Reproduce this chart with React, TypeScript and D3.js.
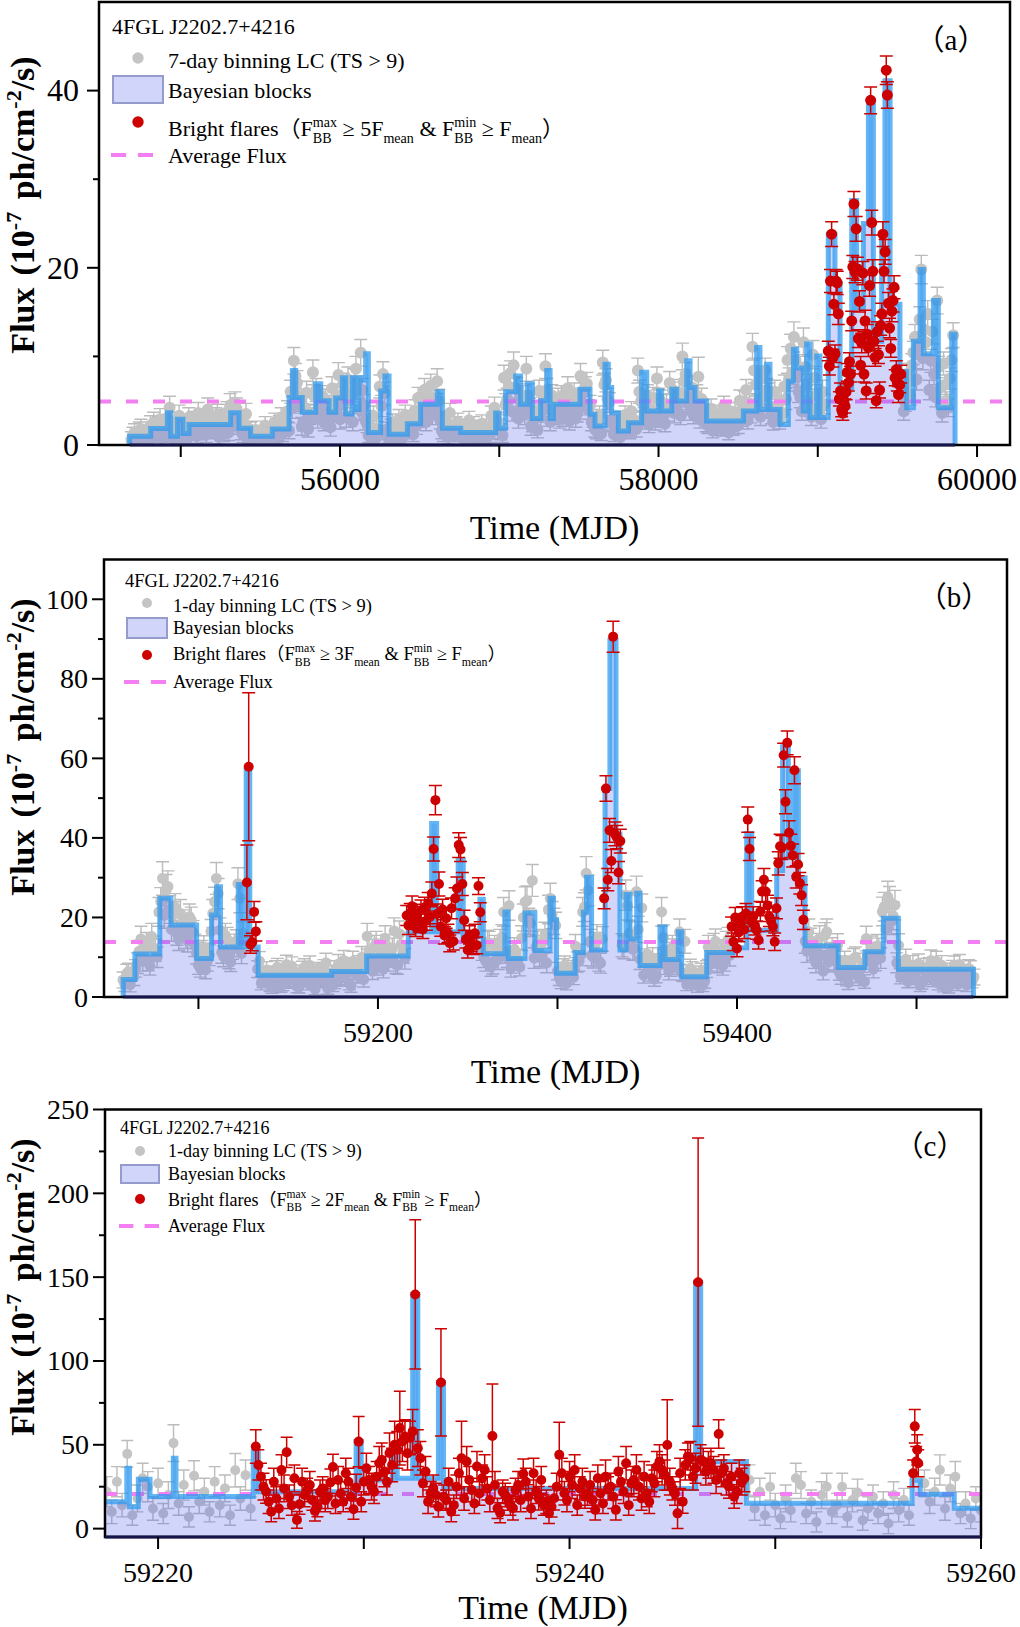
import React from 'react';
import * as d3 from 'd3';

const SERIF = '"Liberation Serif", "Times New Roman", Times, serif';
const CJK = '"Noto Sans CJK SC", "Noto Sans CJK JP", sans-serif';

const GRAY = '#c4c4c4';
const GRAY_ERR = '#bcbcbc';
const RED = '#cc0000';
const BLOCK_FILL = 'rgb(85,100,235)';
const BLOCK_FILL_OPACITY = 0.27;
const BLOCK_LINE = 'rgb(40,152,238)';
const AVG_COLOR = '#f47ff2';
const NAVY = '#15154a';

// ---------- (a) 7-day binning, full mission ----------
const grayStartA1 = 54690;
const grayStartA1b = 54700;
const grayStepA1 = 20;
const grayFluxA1 = [
  0.6, 1.4, 0.9, 1.8, 0.5, 1.2, 2.2,
  2.5, 1.4, 2.9, 1.1, 3.0,
  4.2,
  0.7, 1.6,
  3.3,
  0.9, 2.0,
  3.1, 1.8, 2.6, 3.6, 1.5, 2.9, 4.0, 2.2, 1.7, 3.4, 2.8, 1.2, 3.7,
  4.5, 2.8, 4.1,
  2.6, 1.2, 3.5, 1.0,
  0.8, 1.7, 0.5, 1.3, 2.2, 0.9, 1.5,
  2.6, 1.4, 3.1, 2.0, 3.8,
  6.0, 9.5, 7.0,
  4.8, 2.6, 5.9, 3.4,
  8.2,
  6.2, 3.9, 5.5,
  5.1, 2.7,
  6.4, 4.4, 7.9, 4.8, 6.3, 7.4, 5.7, 7.2, 6.5, 10.4, 4.5,
  2.4, 0.9, 3.3, 1.8,
  6.6, 8.0,
  1.7, 0.6, 2.5, 1.1, 2.9, 0.8,
  3.4, 1.6, 2.9, 3.9,
  5.3, 3.6, 6.2, 4.1, 6.7, 5.0,
  7.2,
  2.8, 1.3, 2.5, 3.6, 1.5, 2.2,
  2.0, 0.8, 1.6, 2.8, 1.1, 0.6, 1.9, 2.4, 1.0, 1.7, 3.3, 4.2,
  2.7, 1.5,
  7.6, 5.2, 8.1,
  9.0,
  6.3, 4.0, 5.5,
  8.6,
  4.2, 2.4, 3.7,
  6.1, 4.3,
  8.9,
  4.0, 5.6, 3.8, 5.2,
  5.5, 3.9, 6.4, 4.4, 5.8, 3.6,
  7.8, 5.9, 6.9,
  4.5,
  3.0, 1.6, 3.4,
  9.3, 7.3, 4.8,
  2.4, 1.2, 2.8, 1.8,
  3.4, 2.0, 3.8, 2.7,
  8.4,
  4.9, 3.2, 5.6, 4.0, 5.3,
  7.5,
  5.0, 3.4, 4.6,
  7.0, 6.2, 4.3, 5.9, 10.0, 8.0, 5.6,
  6.5, 4.4, 7.7, 5.2,
  3.6, 2.2, 4.1, 2.9, 1.9, 3.3, 4.4, 2.5, 3.8, 2.0, 3.1,
  5.0, 4.2, 6.2, 4.7,
  11.1, 6.8, 5.1, 7.6, 8.4, 5.8, 3.4, 6.0, 3.5, 5.0, 6.6, 9.6, 10.9, 12.2, 7.9, 5.4, 11.6, 6.7, 4.3, 10.2, 5.6, 4.0, 6.0,
];
const grayErrA1 = [
  0.9, 1.0, 0.8, 1.1, 0.9, 1.0, 1.1,
  1.2, 0.9, 1.2, 0.8, 1.1,
  1.3,
  0.9, 1.0,
  1.2,
  0.8, 1.0,
  1.1, 0.9, 1.1, 1.2, 0.9, 1.1, 1.3, 1.0, 0.9, 1.2, 1.1, 0.8, 1.2,
  1.3, 1.1, 1.2,
  1.0, 0.9, 1.2, 0.8,
  0.8, 1.0, 0.7, 0.9, 1.0, 0.8, 0.9,
  1.0, 0.9, 1.1, 1.0, 1.2,
  1.3, 1.5, 1.4,
  1.2, 1.0, 1.3, 1.1,
  1.4,
  1.3, 1.1, 1.2,
  1.2, 1.0,
  1.3, 1.2, 1.4, 1.2, 1.3, 1.4, 1.2, 1.4, 1.3, 1.5, 1.2,
  1.0, 0.8, 1.1, 0.9,
  1.3, 1.4,
  0.9, 0.8, 1.0, 0.9, 1.1, 0.8,
  1.1, 0.9, 1.0, 1.2,
  1.2, 1.1, 1.3, 1.1, 1.3, 1.2,
  1.4,
  1.0, 0.9, 1.0, 1.1, 0.9, 1.0,
  0.9, 0.8, 0.9, 1.0, 0.8, 0.7, 0.9, 1.0, 0.8, 0.9, 1.1, 1.2,
  1.0, 0.9,
  1.4, 1.2, 1.4,
  1.5,
  1.3, 1.1, 1.2,
  1.4,
  1.1, 0.9, 1.1,
  1.2, 1.1,
  1.4,
  1.1, 1.2, 1.1, 1.2,
  1.2, 1.1, 1.3, 1.1, 1.2, 1.0,
  1.4, 1.2, 1.3,
  1.1,
  1.0, 0.9, 1.0,
  1.4, 1.3, 1.1,
  0.9, 0.8, 1.0, 0.9,
  1.0, 0.9, 1.1, 1.0,
  1.4,
  1.2, 1.0, 1.2, 1.1, 1.2,
  1.3,
  1.2, 1.0, 1.1,
  1.3, 1.2, 1.1, 1.2, 1.5, 1.3, 1.2,
  1.3, 1.1, 2.2, 1.2,
  1.0, 0.9, 1.1, 1.0, 0.8, 1.0, 1.1, 0.9, 1.0, 0.9, 1.0,
  1.2, 1.1, 1.2, 1.1,
  1.5, 1.3, 1.2, 1.3, 1.4, 1.2, 1.0, 1.3, 1.0, 1.2, 1.3, 1.5, 1.6, 1.7, 1.4, 1.2, 1.6, 1.3, 1.1, 1.6, 1.2, 1.1, 1.3,
];
// the bins in between, 10 days later
const grayFluxA1b = [
  1.1, 0.4, 1.6, 0.7, 1.3, 0.6, 1.5,
  1.2, 2.2, 0.8, 2.0, 1.3,
  2.6,
  1.3, 0.5,
  2.1,
  1.5, 0.7,
  1.5, 2.7, 1.0, 2.0, 3.0, 1.2, 2.4, 1.6, 3.1, 0.9, 2.1, 2.9, 1.4,
  3.0, 4.8, 2.2,
  1.5, 2.4, 0.9, 1.7,
  1.2, 0.4, 1.0, 0.6, 1.4, 0.5, 1.1,
  1.0, 2.3, 1.3, 2.6, 1.6,
  4.2, 7.8, 5.0,
  2.1, 4.2, 1.8, 3.0,
  5.5,
  3.0, 4.6, 2.6,
  3.2, 2.0,
  3.8, 5.6, 2.9, 6.8, 3.1, 5.0, 2.6, 8.6, 4.0, 6.2, 2.8,
  1.1, 2.0, 0.6, 1.4,
  4.4, 5.8,
  1.0, 2.0, 0.5, 1.5, 0.8, 1.8,
  1.8, 2.8, 1.2, 2.2,
  3.1, 4.7, 2.6, 5.5, 3.4, 4.0,
  5.0,
  1.6, 2.4, 0.9, 1.9, 1.2, 2.6,
  1.2, 1.8, 0.6, 1.3, 2.2, 0.9, 1.4, 0.7, 2.0, 1.1, 1.6, 2.5,
  2.0, 1.1,
  4.6, 6.6, 3.8,
  6.4,
  3.0, 4.8, 3.4,
  5.6,
  2.1, 3.2, 1.7,
  3.2, 5.4,
  6.2,
  2.6, 3.4, 4.4, 2.9,
  3.2, 4.9, 2.7, 4.0, 3.0, 5.0,
  4.6, 6.4, 4.0,
  2.6,
  1.8, 2.6, 1.3,
  6.8, 5.2, 2.7,
  1.2, 2.0, 0.9, 1.6,
  2.2, 1.5, 2.9, 1.8,
  6.0,
  2.8, 4.2, 2.3, 3.5, 2.6,
  5.2,
  3.0, 2.4, 3.8,
  4.6, 3.6, 5.2, 3.3, 7.2, 4.8, 3.9,
  3.4, 5.6, 2.9, 4.0,
  2.4, 3.2, 1.6, 2.7, 3.5, 1.8, 2.9, 1.4, 2.6, 3.7, 2.2,
  3.1, 4.9, 2.8, 3.6,
  8.4, 4.6, 3.2, 5.5, 6.2, 4.1, 2.6, 4.4, 2.8, 3.6, 5.2, 7.4, 8.2, 9.6, 6.0, 3.8, 8.8, 4.8, 3.2, 7.6, 4.2, 2.9, 4.6,
];
const grayErrA1b = [
  0.9, 0.7, 1.0, 0.8, 0.9, 0.8, 1.0,
  0.9, 1.0, 0.8, 1.0, 0.9,
  1.1,
  0.9, 0.7,
  1.0,
  1.0, 0.8,
  0.9, 1.1, 0.8, 1.0, 1.1, 0.9, 1.0, 0.9, 1.1, 0.8, 1.0, 1.1, 0.9,
  1.1, 1.2, 1.0,
  0.9, 1.0, 0.8, 0.9,
  0.8, 0.7, 0.8, 0.7, 0.9, 0.7, 0.8,
  0.8, 1.0, 0.9, 1.0, 0.9,
  1.2, 1.4, 1.2,
  1.0, 1.2, 0.9, 1.1,
  1.3,
  1.1, 1.2, 1.0,
  1.1, 1.0,
  1.2, 1.3, 1.1, 1.3, 1.1, 1.2, 1.0, 1.4, 1.2, 1.3, 1.1,
  0.8, 0.9, 0.7, 0.8,
  1.2, 1.3,
  0.8, 0.9, 0.7, 0.9, 0.7, 0.9,
  0.9, 1.0, 0.8, 1.0,
  1.1, 1.2, 1.0, 1.3, 1.1, 1.1,
  1.3,
  0.9, 1.0, 0.8, 0.9, 0.8, 1.0,
  0.8, 0.9, 0.7, 0.8, 1.0, 0.8, 0.8, 0.7, 0.9, 0.8, 0.9, 1.0,
  0.9, 0.8,
  1.2, 1.3, 1.1,
  1.3,
  1.1, 1.2, 1.1,
  1.3,
  1.0, 1.1, 0.9,
  1.1, 1.2,
  1.3,
  1.0, 1.1, 1.2, 1.0,
  1.1, 1.2, 1.0, 1.1, 1.0, 1.2,
  1.2, 1.3, 1.1,
  1.0,
  0.9, 1.0, 0.8,
  1.3, 1.2, 1.0,
  0.8, 0.9, 0.8, 0.9,
  0.9, 0.8, 1.0, 0.9,
  1.3,
  1.0, 1.1, 0.9, 1.0, 0.9,
  1.2,
  1.0, 0.9, 1.1,
  1.2, 1.1, 1.2, 1.0, 1.3, 1.2, 1.1,
  1.0, 1.2, 1.0, 1.1,
  0.9, 1.0, 0.8, 0.9, 1.0, 0.8, 0.9, 0.8, 0.9, 1.1, 0.9,
  1.0, 1.2, 1.0, 1.1,
  1.4, 1.1, 1.0, 1.2, 1.3, 1.1, 0.9, 1.1, 1.0, 1.0, 1.2, 1.3, 1.4, 1.5, 1.2, 1.0, 1.4, 1.2, 1.0, 1.3, 1.1, 1.0, 1.1,
];
const grayStartA2 = 59530;
const grayStepA2 = 20;
const grayFluxA2 = [6.5, 4.8, 7.2, 9.0, 12.2, 11.0, 19.8, 13.0, 14.8, 9.5, 8.0, 16.3, 6.5, 9.2, 5.0, 7.5, 12.4];
const grayErrA2 = [1.1, 1.0, 1.2, 1.3, 1.4, 1.3, 1.6, 1.4, 1.5, 1.3, 1.2, 1.5, 1.1, 1.3, 1.0, 1.2, 1.4];
const grayStartA2b = 59540;
const grayFluxA2b = [3.8, 8.0, 5.6, 10.4, 7.4, 14.2, 9.8, 11.6, 6.2, 12.8, 5.4, 8.8, 3.6, 6.8, 4.2, 9.6];
const grayErrA2b = [1.0, 1.2, 1.1, 1.3, 1.2, 1.4, 1.3, 1.4, 1.1, 1.4, 1.1, 1.2, 1.0, 1.1, 1.0, 1.3];

const redStartA = 59066;
const redStepA = 7;
const redFluxA = [
  10.6, 8.9, 18.5, 23.8, 9.8, 15.9, 10.3, 18.5, 18.3, 14.8,
  5.2, 6.1, 4.0, 3.6, 5.0, 4.4, 6.0, 8.2, 7.0, 9.4,
  8.0, 14.0, 20.1, 27.2, 19.5, 24.4, 19.9, 12.0, 16.2, 9.0,
  11.5, 19.4, 8.0, 14.0, 6.1, 12.5, 11.0, 18.0, 38.9, 25.1,
  19.6, 11.7, 9.9, 5.0, 12.8, 10.2, 6.2, 13.5, 14.8, 23.8,
  19.6, 21.8, 42.3, 39.5, 16.0, 13.2, 10.9, 15.1, 16.3, 17.8,
  7.6, 8.5, 7.0, 5.7, 6.8, 8.0,
];
const redErrA = [
  1.1, 1.0, 1.3, 1.4, 1.0, 1.2, 1.0, 1.3, 1.3, 1.2,
  0.8, 0.9, 0.8, 0.8, 0.8, 0.8, 0.9, 1.0, 0.9, 1.0,
  0.9, 1.1, 1.3, 1.4, 1.2, 1.4, 1.3, 1.0, 1.2, 1.0,
  1.1, 1.3, 0.9, 1.2, 0.9, 1.1, 1.0, 1.2, 1.5, 1.4,
  1.3, 1.1, 1.0, 0.8, 1.1, 1.0, 0.9, 1.1, 1.2, 1.4,
  1.3, 1.4, 1.6, 1.5, 1.2, 1.1, 1.0, 1.2, 1.3, 1.3,
  0.9, 1.0, 0.9, 0.9, 0.9, 1.0,
];

const blockEdgesA = [
  54679, 54811, 54916, 54937, 54979, 55014, 55052, 55313, 55366, 55439,
  55575, 55680, 55701, 55722, 55763, 55847, 55879, 55931, 55973, 56015,
  56036, 56077, 56098, 56119, 56140, 56161, 56178, 56255, 56282, 56308,
  56423, 56506, 56611, 56643, 56758, 56977, 56998, 57040, 57103, 57134,
  57176, 57208, 57260, 57298, 57319, 57340, 57507, 57570, 57601, 57664,
  57685, 57706, 57748, 57811, 57894, 57926, 57999, 58020, 58083, 58114,
  58177, 58198, 58229, 58302, 58533, 58616, 58637, 58679, 58700, 58763,
  58815, 58847, 58868, 58909, 58930, 58951, 58993, 59014, 59066, 59108,
  59140, 59213, 59244, 59286, 59318, 59349, 59401, 59422, 59454, 59516,
  59558, 59600, 59642, 59663, 59726, 59757, 59841, 59862,
];
const blockFluxA = [
  1.0, 1.85, 3.65, 1.0, 2.9, 1.3, 2.3, 3.65, 1.9, 1.0,
  1.8, 5.35, 8.4, 5.35, 3.7, 6.9, 5.0, 3.7, 5.3, 7.6,
  3.5, 7.6, 4.0, 7.6, 7.3, 10.3, 1.4, 6.1, 7.8, 1.2,
  2.4, 4.6, 6.0, 1.9, 1.4, 3.6, 1.9, 6.0, 7.8, 4.6,
  6.9, 3.0, 5.0, 8.4, 3.0, 4.6, 6.3, 3.47, 2.15, 9.1,
  6.5, 3.65, 1.58, 2.5, 8.2, 3.85, 6.1, 3.85, 6.3, 4.97,
  9.5, 6.5, 4.97, 2.7, 3.85, 11.0, 4.0, 9.1, 4.0, 2.3,
  7.2, 10.8, 8.7, 3.85, 11.4, 3.1, 10.05, 3.1, 23.8, 18.2,
  6.5, 27.6, 15.5, 25.0, 38.9, 11.7, 23.8, 41.1, 15.9, 8.3,
  4.2, 11.7, 19.8, 10.3, 16.3, 4.2, 12.5,
];
const avgFluxA = 4.9;

// ---------- (b) 1-day binning, MJD 59058-59532 ----------
const grayStartB = 59058;
const grayStartBodd = 59059;
const grayStepB = 2;
const grayFluxB: (number | null)[] = [
  4.3, 5.9, 3.1, 5.0, 8.5, 14.6, 12.0, 9.1, 15.2, 11.8,
  21.4, 29.8, 26.9, 22.0, 20.6, 16.0, 21.0, 17.5, 14.2, 19.3,
  13.0, 8.0, 11.5, 6.8, 10.5, 21.0, 29.8, 16.8, 10.2, 14.5,
  8.8, 13.0, 28.5, 11.0, null, null, null, null, 9.0, 4.2,
  6.8, 3.0, 5.6, 7.5, 2.8, 6.2, 4.0, 7.8, 5.2, 2.5,
  6.9, 4.8, 8.0, 3.6, 6.3, 4.5, 7.2, 2.2, 6.0, 3.8,
  8.3, 5.1, 7.6, 3.5, 9.0, 5.5, 8.0, 4.4, 15.3, 9.5,
  12.6, 7.8, 11.0, 14.8, 9.0, 12.0, 8.2, 15.9, 11.3, null,
  ...Array(20).fill(null),
  12.0, 9.0, 13.5, 8.2, 11.8, 14.0, 21.4, 10.0, 7.2, 12.0,
  9.4, 14.8, 23.9, 19.0, 29.3, 12.5, 10.0, 14.0, 8.6, 24.8,
  19.0, 6.5, 3.8, 8.0, 5.2, 7.0, 12.8, 9.0, 21.4, 31.1,
  14.0, 10.0, 15.0, 8.5, null, null, null, null, null, 13.0,
  25.6, 16.0, 12.0, 26.5, 9.5, 5.5, 10.8, 7.0, 4.5, 9.8,
  21.4, 11.0, 6.5, 12.5, 8.8, 16.4, 6.0, 3.2, 7.2, 4.8,
  2.8, 6.3, 4.0, 12.5, 9.0, 14.0, 10.0, 7.8, 13.5, 10.5,
  ...Array(20).fill(null),
  14.0, 16.4, 12.0, 8.5, 14.8, 6.5, 16.4, 11.0, 9.2, 13.0,
  5.2, 9.0, 3.6, 7.5, 10.0, 4.8, 8.6, 14.7, 11.0, 7.0,
  12.8, 9.8, 22.7, 25.2, 19.0, 23.1, 13.0, 6.0, 9.5, 4.2,
  8.0, 6.5, 3.0, 7.4, 5.0, 9.2, 6.2, 3.5, 8.0, 5.5,
  2.5, 7.0, 4.6, 8.2, 5.8, 3.0, 6.8, 5.0,
];
const grayErrB: number[] = [
  2.0, 2.3, 1.8, 2.1, 2.6, 3.2, 2.9, 2.5, 3.3, 2.8,
  3.6, 4.2, 3.9, 3.5, 3.4, 3.0, 3.5, 3.1, 2.9, 3.3,
  2.8, 2.3, 2.7, 2.2, 2.6, 3.5, 4.0, 3.1, 2.6, 3.0,
  2.4, 2.8, 4.0, 2.6, 0, 0, 0, 0, 2.4, 1.8,
  2.1, 1.6, 2.0, 2.2, 1.6, 2.0, 1.8, 2.3, 1.9, 1.5,
  2.1, 1.9, 2.3, 1.7, 2.0, 1.8, 2.2, 1.5, 2.0, 1.7,
  2.4, 2.0, 2.2, 1.7, 2.5, 2.0, 2.4, 1.9, 3.2, 2.6,
  2.9, 2.3, 2.7, 3.1, 2.5, 2.8, 2.3, 3.2, 2.8, 0,
  ...Array(20).fill(0),
  2.8, 2.5, 3.0, 2.4, 2.8, 3.0, 3.6, 2.6, 2.2, 2.9,
  2.6, 3.1, 3.8, 3.3, 4.0, 2.9, 2.7, 3.0, 2.5, 3.8,
  3.3, 2.2, 1.7, 2.3, 1.9, 2.2, 2.9, 2.5, 3.6, 4.2,
  3.0, 2.7, 3.2, 2.5, 0, 0, 0, 0, 0, 2.9,
  3.8, 3.2, 2.8, 3.9, 2.6, 2.0, 2.8, 2.2, 1.8, 2.6,
  3.6, 2.8, 2.2, 3.0, 2.5, 3.2, 2.1, 1.6, 2.3, 1.9,
  1.6, 2.2, 1.8, 3.0, 2.5, 3.1, 2.7, 2.3, 3.0, 2.7,
  ...Array(20).fill(0),
  3.0, 3.2, 2.8, 2.4, 3.1, 2.2, 3.2, 2.7, 2.5, 2.9,
  2.0, 2.5, 1.7, 2.3, 2.6, 1.9, 2.4, 3.1, 2.7, 2.2,
  2.9, 2.6, 3.6, 3.9, 3.3, 3.7, 2.9, 2.1, 2.5, 1.8,
  2.4, 2.2, 1.6, 2.3, 1.9, 2.6, 2.1, 1.7, 2.4, 2.0,
  1.5, 2.2, 1.9, 2.5, 2.1, 1.6, 2.3, 2.0,
];
const grayFluxBodd: (number | null)[] = [
  3.2, 6.4, 4.8, 7.2, 11.5, 9.0, 13.2, 7.8, 12.4, 10.0,
  24.0, 20.5, 27.8, 17.0, 22.6, 14.5, 18.8, 15.0, 20.2, 16.3,
  11.0, 7.2, 12.5, 9.0, 16.5, 24.0, 26.0, 11.2, 15.5, 9.6,
  12.2, 14.0, 24.8, 16.0, null, null, null, 7.0, 3.5, 5.8,
  4.6, 2.4, 7.0, 5.0, 3.2, 8.2, 4.4, 6.0, 2.6, 5.4,
  7.5, 3.4, 5.8, 2.0, 6.6, 4.2, 8.6, 5.0, 3.0, 7.0,
  4.6, 9.2, 6.0, 2.8, 7.4, 5.6, 10.0, 8.4, 11.6, 6.5,
  13.5, 9.8, 7.0, 12.8, 10.2, 16.6, 8.0, 13.2, 9.6, null,
  ...Array(20).fill(null),
  10.0, 13.8, 7.5, 12.6, 9.4, 15.0, 11.2, 23.0, 8.4, 11.0,
  7.6, 20.0, 24.2, 18.5, 9.8, 13.6, 10.4, 15.6, 22.0, 20.6,
  18.0, 4.8, 7.4, 3.4, 6.6, 5.0, 8.8, 10.6, 22.6, 26.8,
  10.5, 13.2, 9.0, 14.6, null, null, null, null, null, 12.5,
  23.0, 15.8, 12.2, 17.0, 22.4, 8.6, 6.0, 9.8, 5.4, 8.0,
  15.0, 10.2, 7.4, 11.8, 8.0, 6.2, 14.0, 4.0, 6.8, 3.6,
  5.8, 3.0, 7.0, 10.4, 13.0, 8.5, 11.6, 9.0, 14.4, null,
  ...Array(20).fill(null),
  11.5, 14.2, 9.8, 13.0, 10.4, 15.5, 8.8, 12.0, 9.4, 6.2,
  8.0, 4.6, 6.8, 9.6, 5.5, 7.0, 3.9, 10.6, 12.4, 9.0,
  12.0, 21.5, 17.0, 24.0, 20.4, 8.6, 5.2, 7.8, 4.0, 6.6,
  5.0, 8.4, 3.6, 6.2, 7.6, 4.4, 9.0, 5.8, 2.8, 6.4,
  4.4, 8.0, 3.2, 6.0, 5.4, 7.2, 4.0,
];
const grayErrBodd: number[] = [
  1.8, 2.1, 1.9, 2.2, 2.8, 2.5, 3.0, 2.3, 2.9, 2.6,
  3.5, 3.2, 3.9, 3.0, 3.4, 2.8, 3.1, 2.8, 3.2, 2.9,
  2.7, 2.2, 2.9, 2.5, 3.0, 3.6, 3.8, 2.7, 3.0, 2.5,
  2.7, 2.9, 3.6, 3.0, 0, 0, 0, 2.1, 1.7, 2.0,
  1.9, 1.5, 2.1, 1.9, 1.6, 2.3, 1.8, 2.0, 1.5, 1.9,
  2.1, 1.6, 2.0, 1.4, 2.1, 1.8, 2.4, 1.9, 1.6, 2.1,
  1.9, 2.5, 2.0, 1.6, 2.2, 2.0, 2.7, 2.4, 2.9, 2.1,
  3.0, 2.6, 2.2, 2.9, 2.7, 3.3, 2.3, 3.0, 2.6, 0,
  ...Array(20).fill(0),
  2.6, 3.0, 2.3, 2.9, 2.5, 3.2, 2.7, 3.7, 2.4, 2.7,
  2.3, 3.4, 3.7, 3.3, 2.6, 3.0, 2.7, 3.2, 3.6, 3.4,
  3.3, 1.9, 2.2, 1.6, 2.1, 1.9, 2.5, 2.7, 3.6, 3.9,
  2.7, 3.0, 2.5, 3.1, 0, 0, 0, 0, 0, 2.9,
  3.6, 3.1, 2.9, 3.3, 3.5, 2.4, 2.0, 2.6, 1.8, 2.3,
  3.1, 2.6, 2.2, 2.8, 2.3, 2.0, 3.0, 1.7, 2.1, 1.6,
  2.0, 1.6, 2.1, 2.6, 3.0, 2.4, 2.8, 2.5, 3.1, 0,
  ...Array(20).fill(0),
  2.8, 3.1, 2.6, 3.0, 2.7, 3.2, 2.5, 2.9, 2.6, 2.0,
  2.3, 1.8, 2.1, 2.6, 1.9, 2.2, 1.7, 2.7, 2.9, 2.4,
  2.8, 3.6, 3.2, 3.8, 3.5, 2.5, 1.9, 2.3, 1.7, 2.1,
  1.9, 2.4, 1.6, 2.0, 2.3, 1.8, 2.5, 2.0, 1.5, 2.1,
  1.8, 2.3, 1.6, 2.0, 1.9, 2.2, 1.7,
];

// flaring days, one flux per day from each start
const redStartsB = [59127, 59216, 59326, 59397];
const redFluxB1 = [28.8, 57.9, 13.2, 13.8, 21.4, 16.5];
const redErrB1 = [9.4, 18.6, 2.2, 2.2, 2.6, 2.4];
const redFluxB2 = [
  20.5, 18.0, 21.0, 22.8, 19.5, 17.5, 20.8, 18.6, 21.8, 17.0,
  22.5, 19.2, 23.6, 20.2, 26.0, 37.2, 49.5, 20.9, 28.4, 17.7,
  22.0, 15.5, 19.8, 16.0, 13.5, 22.3, 14.0, 24.8, 27.3, 38.2,
  37.1, 28.4, 19.3, 14.5, 11.8, 15.6, 13.5, 12.8, 16.0, 13.0,
  27.9, 21.3,
];
const redErrB2 = [
  2.5, 2.3, 2.5, 2.6, 2.4, 2.3, 2.5, 2.4, 2.6, 2.3,
  2.6, 2.4, 2.7, 2.5, 2.9, 3.0, 3.7, 2.5, 3.0, 2.4,
  2.6, 2.2, 2.5, 2.3, 2.1, 2.6, 2.2, 2.7, 2.9, 3.1,
  3.0, 2.9, 2.5, 2.2, 2.0, 2.3, 2.1, 2.1, 2.3, 2.1,
  2.1, 2.4,
];
const redFluxB3 = [24.8, 52.4, 29.5, 41.9, 34.2, 90.6, 41.0, 40.2, 31.3, 39.2];
const redErrB3 = [2.6, 3.2, 2.8, 3.0, 2.9, 3.9, 3.0, 2.9, 2.8, 3.0];
const redFluxB4 = [
  17.7, 13.9, 20.0, 12.2, 16.2, 18.5, 20.2, 17.0, 21.0, 44.6,
  37.2, 19.0, 20.2, 18.0, 16.8, 14.3, 21.5, 26.5, 29.5, 26.5,
  23.0, 20.2, 19.0, 17.7, 13.9, 22.3, 33.6, 37.9, 37.6, 60.8,
  49.1, 63.9, 41.3, 38.0, 35.6, 57.0, 30.2, 33.3, 28.6, 25.6,
  19.4,
];
const redErrB4 = [
  2.4, 2.2, 2.5, 2.1, 2.3, 2.4, 2.5, 2.3, 2.5, 3.2,
  2.9, 2.4, 2.5, 2.4, 2.3, 2.2, 2.5, 2.7, 2.8, 2.7,
  2.6, 2.5, 2.4, 2.3, 2.2, 2.6, 2.9, 3.0, 3.0, 3.0,
  3.0, 3.0, 3.0, 2.9, 2.9, 3.4, 2.8, 2.8, 2.7, 2.6,
  2.4,
];

const blockEdgesB = [
  59058.1, 59064.6, 59078.5, 59084.7, 59099.0, 59107.3, 59110.1, 59112.3, 59122.2, 59124.9,
  59126.6, 59128.6, 59133.3, 59174.2, 59193.7, 59216.9, 59229.9, 59232.7, 59244.7, 59247.5,
  59256.8, 59258.7, 59270.7, 59272.6, 59281.9, 59287.4, 59295.8, 59297.7, 59299.5, 59309.8,
  59314.4, 59316.2, 59319.0, 59326.5, 59329.2, 59332.6, 59334.8, 59338.2, 59340.4, 59344.1,
  59346.0, 59357.1, 59359.9, 59367.3, 59369.2, 59383.1, 59397.9, 59405.4, 59408.2, 59422.1,
  59425.4, 59428.6, 59431.4, 59434.2, 59437.9, 59456.4, 59471.3, 59481.5, 59489.9, 59531.7,
];
const blockFluxB = [
  4.4, 10.8, 24.8, 18.1, 9.7, 20.6, 27.7, 12.6, 28.3, 12.6,
  57.0, 12.6, 5.5, 6.4, 10.3, 16.4, 43.6, 16.4, 34.4, 15.2,
  24.6, 10.9, 21.4, 9.7, 21.1, 11.7, 24.8, 19.4, 5.95, 11.2,
  21.3, 30.1, 11.8, 52.4, 89.7, 41.0, 11.8, 25.8, 14.6, 26.1,
  7.9, 17.6, 9.4, 16.4, 5.1, 11.2, 12.4, 41.1, 16.8, 31.8,
  62.9, 35.1, 56.9, 30.0, 12.9, 7.4, 11.4, 19.8, 7.0,
];
const avgFluxB = 13.8;

// ---------- (c) MJD 59217-59260, 6-hour sampling ----------
const grayStartC1 = 59217.5;
const grayStartC2 = 59248.75;
const stepC = 0.25;
const grayFluxC1 = [
  22.0, 10.0, 28.0, 14.0, 44.6, 8.0, 18.0, 30.0, 25.0, 12.0,
  27.0, 9.0, 20.0, 51.0, 15.0, 26.0, 7.0, 31.5, 16.0, 22.0,
  10.0, 28.0, 14.0, 24.0, 8.0, 34.8, 18.0, 31.9, 12.0,
];
const grayErrC1 = [
  9, 7, 9, 7, 8, 6, 8, 9, 9, 7,
  9, 6, 8, 11, 7, 9, 6, 9, 7, 8,
  6, 9, 7, 8, 6, 10, 7, 9, 7,
];
const grayFluxC2: (number | null)[] = [
  29.0, 12.0, 22.0, 8.0, 25.0, 14.0, 6.0, 18.0, 11.0, 30.0,
  26.0, 9.0, 16.0, 4.0, 20.0, 25.0, 10.0, 14.0, 25.0, 7.0,
  17.0, 21.5, 5.0, 12.0, 19.0, 9.0, 15.0, 3.0, 20.0, 11.0,
  17.0, 8.0, null, null, 27.0, 16.0, 22.0, 35.0, 12.0, 24.0,
  31.0, 9.0, 15.0, 6.0, 18.0, 11.0,
];
const grayErrC2 = [
  9, 7, 8, 6, 8, 7, 6, 8, 7, 9,
  8, 6, 7, 6, 8, 8, 7, 7, 8, 6,
  7, 8, 6, 7, 7, 6, 7, 6, 8, 7,
  7, 6, 0, 0, 8, 7, 8, 9, 7, 8,
  9, 6, 7, 6, 7, 7,
];
const redStartC = 59224.75;
const redStartCb = 59224.875;
const redFluxC = [
  49.0, 31.0, 22.1, 10.1, 18.0, 35.0, 45.5, 14.0, 5.2, 28.0,
  23.0, 17.0, 13.1, 24.0, 19.0, 36.8, 29.0, 16.0, 28.0, 11.6,
  51.9, 28.0, 29.0, 22.0, 39.0, 34.0, 45.1, 50.0, 60.0, 55.0,
  54.0, 139.7, 42.0, 34.0, 21.1, 20.1, 87.2, 17.0, 10.1, 25.0,
  42.0, 40.0, 23.0, 37.0, 30.0, 24.0, 55.2, 12.1, 22.0, 18.0,
  12.1, 26.0, 32.6, 19.1, 33.0, 18.1, 14.0, 9.1, 18.1, 44.0,
  21.1, 31.0, 35.0, 24.0, 19.1, 26.0, 11.2, 21.1, 31.0, 25.0,
  11.2, 28.0, 39.0, 27.0, 35.0, 18.0, 21.1, 30.0, 37.0, 35.0,
  49.9, 24.0, 9.1, 16.1, 43.0, 31.0, 147.0, 40.0, 38.0, 35.0,
  56.4, 36.0, 25.1, 19.1, 33.0, 30.0,
];
const redErrC = [
  10, 8, 7, 6, 7, 9, 9, 6, 5, 8,
  7, 6, 6, 7, 7, 7.5, 8, 6, 8, 6,
  15, 8, 8, 7, 10, 9, 12, 14, 22, 10,
  10, 44.5, 10, 9, 7, 7, 32, 6, 6, 7,
  22, 9, 7, 9, 8, 7, 31, 6, 7, 7,
  7, 8, 9, 7, 9, 7, 6, 6, 7, 19.5,
  7, 9, 9, 7, 7, 8, 6, 7, 10, 8,
  6, 8, 10, 8, 9, 7, 8, 8, 9, 9,
  27, 7, 9, 7, 8, 8, 86, 8, 8, 8,
  8.5, 8, 7, 7, 8, 8,
];
const redFluxCb = [
  38.0, 25.0, 16.0, 28.0, 12.0, 24.0, 19.0, 30.0, 14.5, 20.0,
  26.0, 10.5, 22.0, 17.0, 27.5, 15.0, 21.0, 33.0, 19.0, 24.5,
  16.0, 36.0, 25.0, 31.0, 41.0, 28.0, 38.0, 47.0, 52.0, 45.0,
  58.0, 48.0, 27.0, 16.0, 24.0, 13.0, 19.0, 28.0, 14.0, 33.0,
  18.0, 29.0, 15.0, 21.0, 35.0, 17.0, 26.0, 9.5, 20.0, 14.0,
  23.0, 17.0, 28.0, 12.0, 22.0, 29.0, 16.0, 13.0, 25.0, 33.0,
  17.0, 26.0, 14.0, 28.0, 21.0, 17.0, 30.0, 15.0, 24.0, 19.0,
  34.0, 22.0, 14.0, 29.0, 25.0, 31.0, 16.0, 27.0, 40.0, 32.0,
  28.0, 21.0, 33.0, 38.0, 42.0, 36.0, 41.0, 34.0, 39.0, 29.0,
  33.0, 27.0, 31.0, 22.0, 28.0,
];
const redErrCb = [
  9, 8, 7, 8, 6, 8, 7, 8, 6, 7,
  8, 6, 7, 7, 8, 6, 7, 9, 7, 8,
  6, 9, 8, 9, 10, 8, 10, 11, 12, 10,
  13, 11, 8, 7, 8, 6, 7, 8, 6, 9,
  7, 8, 6, 7, 9, 7, 8, 6, 7, 6,
  7, 7, 8, 6, 7, 8, 7, 6, 8, 9,
  7, 8, 6, 8, 7, 7, 8, 6, 7, 7,
  9, 7, 6, 8, 8, 9, 7, 8, 10, 9,
  8, 7, 9, 9, 10, 9, 9, 8, 9, 8,
  8, 7, 8, 7, 8,
];
const redTimesC2 = [59256.7, 59256.78, 59256.85, 59256.9, 59256.95];
const redFluxC2 = [33.0, 61.0, 40.0, 47.0, 39.0];
const redErrC2 = [8, 10, 9, 9, 8];

const blockEdgesC = [
  59217.0, 59218.48, 59218.61, 59219.04, 59219.61, 59220.74, 59220.87, 59224.625, 59224.875, 59229.625,
  59229.875, 59231.375, 59231.625, 59232.375, 59232.625, 59233.625, 59233.875, 59246.125, 59246.375, 59248.6,
  59256.65, 59257.05, 59258.7, 59260.5,
];
const blockFluxC = [
  16.1, 36.0, 13.1, 29.4, 19.1, 41.9, 19.1, 46.0, 22.0, 51.9,
  29.0, 46.0, 30.0, 139.7, 30.0, 87.2, 24.0, 147.0, 40.0, 15.1,
  28.8, 20.5, 12.1,
];
const avgFluxC = 20.6;

// ---------- helpers ----------
type Pt = { t: number; v: number; e: number };

const binned = (start: number, step: number, flux: (number | null)[], err: number[]): Pt[] =>
  flux.flatMap((v, i) => (v == null ? [] : [{ t: start + i * step, v, e: err[i] }]));

const listed = (times: number[], flux: number[], err: number[]): Pt[] =>
  flux.map((v, i) => ({ t: times[i], v, e: err[i] }));

interface Box { left: number; right: number; top: number; bottom: number }

interface LegendLayout {
  fs: number;
  titleX: number; titleY: number;
  markX: number; textX: number;
  grayY: number; grayTextY: number;
  rect: [number, number, number, number]; blockTextY: number;
  redY: number; redTextY: number;
  dash: [number, number, number]; avgTextY: number;
  markR: number;
}

interface PanelSpec {
  id: string;
  box: Box;
  xDomain: [number, number];
  yDomain: [number, number];
  xTicks: number[];
  xLabels: number[];
  yTicks: number[];
  yMinor: number[];
  tickFont: number;
  tickGap: number;
  edges: number[];
  blocks: number[];
  gray: Pt[];
  red: Pt[];
  avg: number;
  grayR: number;
  redR: number;
  cap: number;
  tag: string;
  tagPos: [number, number];
  yTitleY: number;
  xTitleY: number;
  binText: string;
  factor: string;
  legend: LegendLayout;
}

function errPath(pts: Pt[], x: d3.ScaleLinear<number, number>, y: d3.ScaleLinear<number, number>, cap: number) {
  const p = d3.path();
  pts.forEach((d) => {
    const cx = x(d.t);
    const y0 = y(d.v - d.e);
    const y1 = y(d.v + d.e);
    p.moveTo(cx, y0);
    p.lineTo(cx, y1);
    p.moveTo(cx - cap, y1);
    p.lineTo(cx + cap, y1);
    p.moveTo(cx - cap, y0);
    p.lineTo(cx + cap, y0);
  });
  return p.toString();
}

function FlareLabel({ x, y, fs, factor }: { x: number; y: number; fs: number; factor: string }) {
  const s = fs * 0.64;
  const up = fs * 0.42;
  const down = fs * 0.3;
  const wMax = 1.722 * s;
  const wMin = 1.556 * s;
  const wBB = 1.334 * s;
  return (
    <text x={x} y={y} fontSize={fs} fontFamily={SERIF}>
      Bright flares<tspan fontFamily={CJK}>（</tspan>F
      <tspan fontSize={s} dy={-up}>max</tspan>
      <tspan fontSize={s} dx={-wMax} dy={up + down}>BB</tspan>
      <tspan dx={wMax - wBB} dy={-down}>{` ≥ ${factor}F`}</tspan>
      <tspan fontSize={s} dy={down}>mean</tspan>
      <tspan dy={-down}>{' & F'}</tspan>
      <tspan fontSize={s} dy={-up}>min</tspan>
      <tspan fontSize={s} dx={-wMin} dy={up + down}>BB</tspan>
      <tspan dx={wMin - wBB} dy={-down}>{' ≥ F'}</tspan>
      <tspan fontSize={s} dy={down}>mean</tspan>
      <tspan dy={-down} fontFamily={CJK}>）</tspan>
    </text>
  );
}

function Legend({ L, binText, factor }: { L: LegendLayout; binText: string; factor: string }) {
  const [rx, ry, rw, rh] = L.rect;
  const [dx0, dx1, dy] = L.dash;
  return (
    <g fontFamily={SERIF} fill="#000">
      <text x={L.titleX} y={L.titleY} fontSize={L.fs}>4FGL J2202.7+4216</text>
      <circle cx={L.markX} cy={L.grayY} r={L.markR} fill={GRAY} />
      <text x={L.textX} y={L.grayTextY} fontSize={L.fs}>{binText}</text>
      <rect x={rx} y={ry} width={rw} height={rh} fill={BLOCK_FILL} fillOpacity={BLOCK_FILL_OPACITY} />
      <rect x={rx} y={ry} width={rw} height={rh} fill="none" stroke="rgb(150,155,205)" strokeWidth={2} />
      <text x={L.textX} y={L.blockTextY} fontSize={L.fs}>Bayesian blocks</text>
      <circle cx={L.markX} cy={L.redY} r={L.markR} fill={RED} />
      <FlareLabel x={L.textX} y={L.redTextY} fs={L.fs} factor={factor} />
      <line x1={dx0} x2={dx1} y1={dy} y2={dy} stroke={AVG_COLOR} strokeWidth={4} strokeDasharray={`${(dx1 - dx0) * 0.36},${(dx1 - dx0) * 0.28}`} />
      <text x={L.textX} y={L.avgTextY} fontSize={L.fs}>Average Flux</text>
    </g>
  );
}

function Panel({ spec }: { spec: PanelSpec }) {
  const { box } = spec;
  const x = d3.scaleLinear().domain(spec.xDomain).range([box.left, box.right]);
  const y = d3.scaleLinear().domain(spec.yDomain).range([box.bottom, box.top]);
  const base = spec.yDomain[0];
  const n = spec.blocks.length;

  const stepPts: [number, number][] = [
    [spec.edges[0], base],
    ...spec.blocks.map((v, i) => [spec.edges[i], v] as [number, number]),
    [spec.edges[n], spec.blocks[n - 1]],
    [spec.edges[n], base],
  ];
  const areaPts: [number, number][] = [
    ...spec.blocks.map((v, i) => [spec.edges[i], v] as [number, number]),
    [spec.edges[n], spec.blocks[n - 1]],
  ];
  const stepLine = d3.line<[number, number]>().x((d) => x(d[0])).y((d) => y(d[1])).curve(d3.curveStepAfter);
  const stepArea = d3
    .area<[number, number]>()
    .x((d) => x(d[0]))
    .y0(box.bottom)
    .y1((d) => y(d[1]))
    .curve(d3.curveStepAfter);

  const clipId = `clip-${spec.id}`;
  const w = box.right - box.left;
  const h = box.bottom - box.top;
  const midX = (box.left + box.right) / 2;

  return (
    <g>
      <defs>
        <clipPath id={clipId}>
          <rect x={box.left} y={box.top} width={w} height={h} />
        </clipPath>
      </defs>
      <g clipPath={`url(#${clipId})`}>
        <path d={errPath(spec.gray, x, y, spec.cap)} stroke={GRAY_ERR} strokeWidth={1.4} fill="none" />
        {spec.gray.map((d, i) => (
          <circle key={i} cx={x(d.t)} cy={y(d.v)} r={spec.grayR} fill={GRAY} />
        ))}
        <line
          x1={box.left}
          x2={box.right}
          y1={y(spec.avg)}
          y2={y(spec.avg)}
          stroke={AVG_COLOR}
          strokeWidth={4}
          strokeDasharray="12,15"
        />
        <path d={stepArea(areaPts) ?? ''} fill={BLOCK_FILL} fillOpacity={BLOCK_FILL_OPACITY} />
        <path d={stepLine(stepPts) ?? ''} fill="none" stroke={BLOCK_LINE} strokeOpacity={0.72} strokeWidth={5} />
        <path d={errPath(spec.red, x, y, spec.cap)} stroke={RED} strokeWidth={1.5} fill="none" />
        {spec.red.map((d, i) => (
          <circle key={i} cx={x(d.t)} cy={y(d.v)} r={spec.redR} fill={RED} />
        ))}
      </g>

      {/* frame */}
      <rect x={box.left} y={box.top} width={w} height={h} fill="none" stroke="#000" strokeWidth={2.5} />
      <line
        x1={Math.max(box.left, x(spec.edges[0]))}
        x2={Math.min(box.right, x(spec.edges[n]))}
        y1={box.bottom}
        y2={box.bottom}
        stroke={NAVY}
        strokeWidth={3}
      />

      {/* x axis */}
      {spec.xTicks.map((t) => (
        <line key={t} x1={x(t)} x2={x(t)} y1={box.bottom} y2={box.bottom + 12} stroke="#000" strokeWidth={2} />
      ))}
      {spec.xLabels.map((t) => (
        <text key={t} x={x(t)} y={box.bottom + 45} fontFamily={SERIF} fontSize={spec.tickFont} textAnchor="middle">
          {String(t)}
        </text>
      ))}
      <text x={midX} y={spec.xTitleY} fontFamily={SERIF} fontSize={34} textAnchor="middle">
        Time (MJD)
      </text>

      {/* y axis */}
      {spec.yTicks.map((t) => (
        <g key={t}>
          <line x1={box.left - 12} x2={box.left} y1={y(t)} y2={y(t)} stroke="#000" strokeWidth={2} />
          <text
            x={box.left - spec.tickGap}
            y={y(t)}
            dy="0.34em"
            fontFamily={SERIF}
            fontSize={spec.tickFont}
            textAnchor="end"
          >
            {String(t)}
          </text>
        </g>
      ))}
      {spec.yMinor.map((t) => (
        <line key={t} x1={box.left - 6} x2={box.left} y1={y(t)} y2={y(t)} stroke="#000" strokeWidth={2} />
      ))}
      <text
        transform={`translate(34,${spec.yTitleY}) rotate(-90)`}
        textAnchor="middle"
        fontFamily={SERIF}
        fontWeight="bold"
        fontSize={34}
      >
        Flux<tspan dx={12}>(10</tspan>
        <tspan fontSize={22} dy={-13}>-7</tspan>
        <tspan dx={4} dy={13}>{' ph/cm'}</tspan>
        <tspan fontSize={22} dy={-13}>-2</tspan>
        <tspan dy={13}>/s)</tspan>
      </text>

      <Legend L={spec.legend} binText={spec.binText} factor={spec.factor} />
      <text x={spec.tagPos[0]} y={spec.tagPos[1]} fontSize={29} textAnchor="middle" fontFamily={SERIF}>
        <tspan fontFamily={CJK}>（</tspan>
        {spec.tag}
        <tspan fontFamily={CJK}>）</tspan>
      </text>
    </g>
  );
}

const panels: PanelSpec[] = [
  {
    id: 'a',
    box: { left: 99, right: 1010, top: 2, bottom: 445 },
    xDomain: [54486.7, 60207],
    yDomain: [0, 50],
    xTicks: d3.range(55000, 60001, 1000),
    xLabels: [56000, 58000, 60000],
    yTicks: [0, 20, 40],
    yMinor: [10, 30],
    tickFont: 32,
    tickGap: 20,
    edges: blockEdgesA,
    blocks: blockFluxA,
    gray: [
      ...binned(grayStartA1, grayStepA1, grayFluxA1, grayErrA1),
      ...binned(grayStartA1b, grayStepA1, grayFluxA1b, grayErrA1b),
      ...binned(grayStartA2, grayStepA2, grayFluxA2, grayErrA2),
      ...binned(grayStartA2b, grayStepA2, grayFluxA2b, grayErrA2b),
    ],
    red: binned(redStartA, redStepA, redFluxA, redErrA),
    avg: avgFluxA,
    grayR: 6,
    redR: 5.5,
    cap: 6.5,
    tag: 'a',
    tagPos: [951, 50],
    yTitleY: 205,
    xTitleY: 539,
    binText: '7-day binning LC (TS > 9)',
    factor: '5',
    legend: {
      fs: 22, titleX: 112, titleY: 34, markX: 138, textX: 168,
      grayY: 58, grayTextY: 68, rect: [113, 76, 50, 27], blockTextY: 98,
      redY: 122, redTextY: 136, dash: [111, 153, 155], avgTextY: 163, markR: 5.7,
    },
  },
  {
    id: 'b',
    box: { left: 104, right: 1007, top: 559.5, bottom: 997 },
    xDomain: [59047.4, 59550.4],
    yDomain: [0, 110],
    xTicks: d3.range(59100, 59501, 100),
    xLabels: [59200, 59400],
    yTicks: [0, 20, 40, 60, 80, 100],
    yMinor: [10, 30, 50, 70, 90],
    tickFont: 28,
    tickGap: 16,
    edges: blockEdgesB,
    blocks: blockFluxB,
    gray: [
      ...binned(grayStartB, grayStepB, grayFluxB, grayErrB),
      ...binned(grayStartBodd, grayStepB, grayFluxBodd, grayErrBodd),
    ],
    red: [
      ...binned(redStartsB[0], 1, redFluxB1, redErrB1),
      ...binned(redStartsB[1], 1, redFluxB2, redErrB2),
      ...binned(redStartsB[2], 1, redFluxB3, redErrB3),
      ...binned(redStartsB[3], 1, redFluxB4, redErrB4),
    ],
    avg: avgFluxB,
    grayR: 5.5,
    redR: 5,
    cap: 6.5,
    tag: 'b',
    tagPos: [954, 607],
    yTitleY: 747,
    xTitleY: 1083,
    binText: '1-day binning LC (TS > 9)',
    factor: '3',
    legend: {
      fs: 18.5, titleX: 125, titleY: 587, markX: 147, textX: 173,
      grayY: 603, grayTextY: 612, rect: [127, 618, 40, 20], blockTextY: 634,
      redY: 655, redTextY: 660, dash: [124, 166, 682], avgTextY: 688, markR: 5,
    },
  },
  {
    id: 'c',
    box: { left: 105, right: 981, top: 1109.5, bottom: 1537 },
    xDomain: [59217.42, 59260],
    yDomain: [-5, 250],
    xTicks: d3.range(59220, 59261, 10),
    xLabels: [59220, 59240, 59260],
    yTicks: [0, 50, 100, 150, 200, 250],
    yMinor: [25, 75, 125, 175, 225],
    tickFont: 28,
    tickGap: 16,
    edges: blockEdgesC,
    blocks: blockFluxC,
    gray: [
      ...binned(grayStartC1, stepC, grayFluxC1, grayErrC1),
      ...binned(grayStartC2, stepC, grayFluxC2, grayErrC2),
    ],
    red: [
      ...binned(redStartC, stepC, redFluxC, redErrC),
      ...binned(redStartCb, stepC, redFluxCb, redErrCb),
      ...listed(redTimesC2, redFluxC2, redErrC2),
    ],
    avg: avgFluxC,
    grayR: 5,
    redR: 5,
    cap: 6,
    tag: 'c',
    tagPos: [930, 1156],
    yTitleY: 1287,
    xTitleY: 1619,
    binText: '1-day binning LC (TS > 9)',
    factor: '2',
    legend: {
      fs: 18, titleX: 120, titleY: 1134, markX: 140, textX: 168,
      grayY: 1151, grayTextY: 1157, rect: [121, 1165, 38, 18], blockTextY: 1180,
      redY: 1199, redTextY: 1206, dash: [119, 159, 1226], avgTextY: 1232, markR: 5,
    },
  },
];

export default function App() {
  return (
    <div style={{ position: 'absolute', left: 0, top: 0 }}>
      <svg width={1020} height={1627} viewBox="0 0 1020 1627" style={{ display: 'block', background: '#fff' }}>
        {panels.map((p) => (
          <Panel key={p.id} spec={p} />
        ))}
      </svg>
    </div>
  );
}
